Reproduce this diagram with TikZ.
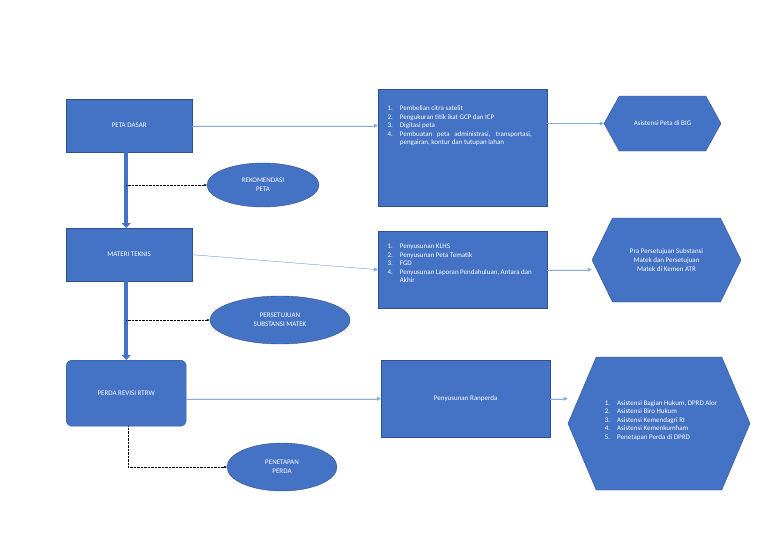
\documentclass[tikz,border=0pt]{standalone}
\usepackage{fontspec}
\setmainfont{Carlito}
\usetikzlibrary{shapes.symbols,shapes.geometric,arrows.meta}
\definecolor{boxblue}{HTML}{4472C4}
\definecolor{edgeblue}{HTML}{2F528F}
\definecolor{lineblue}{HTML}{8FAADC}
\newcommand{\ListT}[2]{\begin{tabular}{@{}r@{\hspace{7pt}}p{#1}@{}}#2\end{tabular}}
\begin{document}
\begin{tikzpicture}[x=1pt,y=-1pt,font=\fontsize{7}{8.6}\selectfont]
	\tikzstyle{boxs} = [draw=edgeblue, fill=boxblue, text=white, anchor=north west, inner sep=0pt]
	\tikzstyle{hexs} = [draw=edgeblue, fill=boxblue, text=white, shape=signal, signal to=west and east, inner sep=0pt]
	\tikzstyle{ells} = [draw=edgeblue, fill=boxblue, text=white, ellipse, inner sep=0pt, align=center]
	\tikzstyle{line} = [draw=lineblue, -{Triangle[length=4pt,width=4pt]}, fill=boxblue]
	\tikzstyle{lineT} = [draw=boxblue, line width=3.5pt, -{Triangle[length=5pt,width=9pt]}]
	\tikzstyle{lineD} = [draw, densely dotted, -{Stealth[length=3pt]}]

	\useasboundingbox (0,0) rectangle (768,543);

	\node(PetaDasar)[boxs, minimum width=126pt, minimum height=53pt] at (66,99){PETA DASAR};
	\node(MateriTeknis)[boxs, minimum width=126pt, minimum height=53pt] at (66,228){MATERI TEKNIS};
	\node(Perda)[boxs, rounded corners=6pt, minimum width=120pt, minimum height=66pt] at (66,360){PERDA REVISI RTRW};

	\node(ListPeta)[boxs, minimum width=169pt, minimum height=117pt, text depth=0pt] at (378,89){};
	\node[anchor=north west] at (ListPeta.north west) [xshift=6pt, yshift=-12pt, text=white]{\ListT{132pt}{
		1. & Pembelian citra satelit\\
		2. & Pengukuran titik ikat GCP dan ICP\\
		3. & Digitasi peta\\
		4. & Pembuatan peta administrasi, transportasi, pengairan, kontur dan tutupan lahan}};
	\node(ListMateri)[boxs, minimum width=169pt, minimum height=77pt] at (378,231){};
	\node[anchor=north west] at (ListMateri.north west) [xshift=6pt, yshift=-8pt, text=white]{\ListT{132pt}{
		1. & Penyusunan KLHS\\
		2. & Penyusunan Peta Tematik\\
		3. & FGD\\
		4. & Penyusunan Laporan Pendahuluan, Antara dan Akhir}};
	\node(Ranperda)[boxs, minimum width=169pt, minimum height=77pt] at (381,360){Penyusunan Ranperda};

	\node(AsistensiBIG)[hexs, minimum width=117pt, minimum height=55pt, signal pointer angle=122] at (662.5,123.5){Asistensi Peta di BIG};
	\node(PraPersetujuan)[hexs, minimum width=149pt, minimum height=84pt, signal pointer angle=128, align=center] at (666.5,260){Pra Persetujuan Substansi\\Matek dan Persetujuan\\Matek di Kemen ATR};
	\node(Asistensi)[hexs, minimum width=182pt, minimum height=133pt, signal pointer angle=134] at (659,423.5){};
	\node at (Asistensi.center) [text=white, xshift=2pt, yshift=3pt]{\ListT{100pt}{
		1. & Asistensi Bagian Hukum, DPRD Alor\\
		2. & Asistensi Biro Hukum\\
		3. & Asistensi Kemendagri RI\\
		4. & Asistensi Kemenkumham\\
		5. & Penetapan Perda di DPRD}};

	\node(Rekomendasi)[ells, minimum width=112pt, minimum height=44pt] at (263,185){REKOMENDASI\\PETA};
	\node(PersetujuanMatek)[ells, minimum width=140pt, minimum height=48pt] at (280,320){PERSETUJUAN\\SUBSTANSI MATEK};
	\node(Penetapan)[ells, minimum width=110pt, minimum height=48pt] at (282,467){PENETAPAN\\PERDA};

	\draw[line] (PetaDasar.east) -- (ListPeta.west |- PetaDasar.east);
	\draw[line] (ListPeta.east |- AsistensiBIG.west) -- (AsistensiBIG.west);
	\draw[line] (MateriTeknis.east) -- (ListMateri.west);
	\draw[line] (ListMateri.east) -- (PraPersetujuan.west |- ListMateri.east);
	\draw[line] (Perda.east |- Ranperda.west) -- (Ranperda.west);
	\draw[line] (Ranperda.east) -- (Asistensi.west |- Ranperda.east);

	\draw[lineT] (PetaDasar.south) ++(-3,0) coordinate(a1) -- (a1 |- MateriTeknis.north);
	\draw[lineT] (MateriTeknis.south) ++(-3,0) coordinate(a2) -- (a2 |- Perda.north);

	\draw[lineD] (a1 |- Rekomendasi.west) -- (Rekomendasi.west);
	\draw[lineD] (a2 |- PersetujuanMatek.west) -- (PersetujuanMatek.west);
	\draw[lineD] (Perda.south) ++(2,0) coordinate(a3) |- (Penetapan.west);
\end{tikzpicture}
\end{document}
